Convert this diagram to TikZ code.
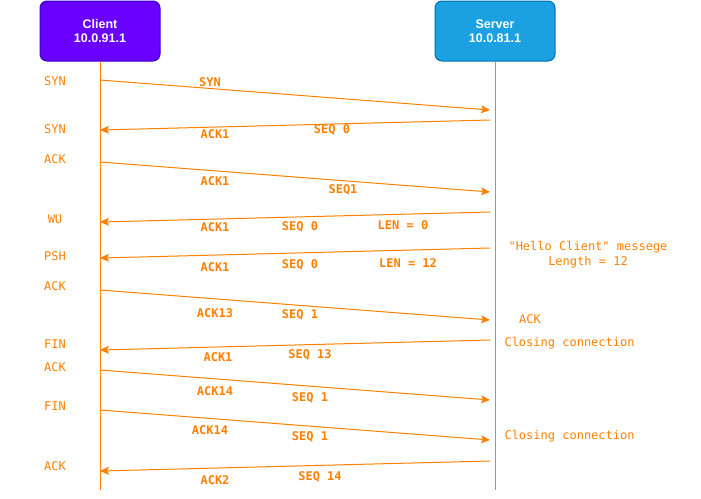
\documentclass[tikz,border=0pt]{standalone}
\usepackage{fontspec}
\setmainfont{Liberation Sans}
\setmonofont{DejaVu Sans Mono}
\usetikzlibrary{positioning, arrows.meta}
\definecolor{tcporange}{HTML}{FF8000}
\definecolor{clientfill}{HTML}{6A00FF}
\definecolor{clientline}{HTML}{3700CC}
\definecolor{serverfill}{HTML}{1BA1E2}
\definecolor{serverline}{HTML}{006EAF}
\tikzstyle{Msg} = [
%Message arrow between the two lifelines:
tcporange, line width=1pt,
-{Stealth[length=9pt, width=8pt, inset=2pt]}
]
\tikzstyle{Life} = [tcporange, line width=1pt]

\begin{document}
\begin{tikzpicture}[x=1pt, y=-1pt,
				host/.style = {rectangle, rounded corners=7pt, line width=1pt, text=white, align=center, minimum width=120pt, minimum height=60pt, font=\bfseries\fontsize{12.5}{14.5}\selectfont},
				flag/.style = {text=tcporange, font=\ttfamily\fontsize{12}{13}\selectfont},
				field/.style = {text=tcporange, font=\ttfamily\bfseries\fontsize{12}{13}\selectfont},
				note/.style = {text=tcporange, align=center, font=\ttfamily\fontsize{12}{15}\selectfont},
			]
			\useasboundingbox (0,0) rectangle (701,498);
			\node[host, fill=clientfill, draw=clientline](CL) at (100,31){Client\\10.0.91.1};
			\node[host, fill=serverfill, draw=serverline](SV) at (495,31){Server\\10.0.81.1};
			\coordinate(CLend) at (100,490);
			\coordinate(SVend) at (495,490);
			\draw[Life](CL.south)--(CLend);
			\draw[Life](SV.south)--(SVend);

			% message end points
			\coordinate(c1) at (100,80);    \coordinate(s1) at (490,110);
			\coordinate(s2) at (490,120);   \coordinate(c2) at (100,130);
			\coordinate(c3) at (100,162);   \coordinate(s3) at (490,192);
			\coordinate(s4) at (490,212);   \coordinate(c4) at (100,222);
			\coordinate(s5) at (490,248);   \coordinate(c5) at (100,258);
			\coordinate(c6) at (100,290);   \coordinate(s6) at (490,320);
			\coordinate(s7) at (490,340);   \coordinate(c7) at (100,350);
			\coordinate(c8) at (100,370);   \coordinate(s8) at (490,400);
			\coordinate(c9) at (100,410);   \coordinate(s9) at (490,440);
			\coordinate(s10) at (490,461);  \coordinate(c10) at (100,471);

			\draw[Msg](c1)--(s1);
			\draw[Msg](s2)--(c2);
			\draw[Msg](c3)--(s3);
			\draw[Msg](s4)--(c4);
			\draw[Msg](s5)--(c5);
			\draw[Msg](c6)--(s6);
			\draw[Msg](s7)--(c7);
			\draw[Msg](c8)--(s8);
			\draw[Msg](c9)--(s9);
			\draw[Msg](s10)--(c10);

			% flags on the client side
			\node[flag](F1) at (55,81){SYN};
			\node[flag](F2) at (55,129){SYN};
			\node[flag](F3) at (55,159){ACK};
			\node[flag](F4) at (55,219){WU};
			\node[flag](F5) at (55,256){PSH};
			\node[flag](F6) at (55,286){ACK};
			\node[flag](F7) at (55,344){FIN};
			\node[flag](F8) at (55,367){ACK};
			\node[flag](F9) at (55,406){FIN};
			\node[flag](F10) at (55,466){ACK};

			% numbers on the messages
			\node[field](M1) at (210,82){SYN};
			\node[field](A2) at (215,134){ACK1};
			\node[field](Q2) at (332,130){SEQ 0};
			\node[field](A3) at (215,181){ACK1};
			\node[field](Q3) at (343,190){SEQ1};
			\node[field](A4) at (215,227){ACK1};
			\node[field](Q4) at (300,227){SEQ 0};
			\node[field](L4) at (403,225){LEN = 0};
			\node[field](A5) at (215,267){ACK1};
			\node[field](Q5) at (300,265){SEQ 0};
			\node[field](L5) at (408,263){LEN = 12};
			\node[field](A6) at (215,313){ACK13};
			\node[field](Q6) at (300,315){SEQ 1};
			\node[field](A7) at (218,357){ACK1};
			\node[field](Q7) at (310,355){SEQ 13};
			\node[field](A8) at (215,391){ACK14};
			\node[field](Q8) at (310,398){SEQ 1};
			\node[field](A9) at (210,430){ACK14};
			\node[field](Q9) at (310,437){SEQ 1};
			\node[field](A10) at (215,480){ACK2};
			\node[field](Q10) at (320,477){SEQ 14};

			% notes on the server side
			\node[note](N1) at (588,255){"Hello Client" messege\\Length = 12};
			\node[flag](N2) at (530,319){ACK};
			\node[flag, anchor=west](N3) at (501,343){Closing connection};
			\node[flag, anchor=west](N4) at (501,436){Closing connection};
		\end{tikzpicture}
\end{document}
